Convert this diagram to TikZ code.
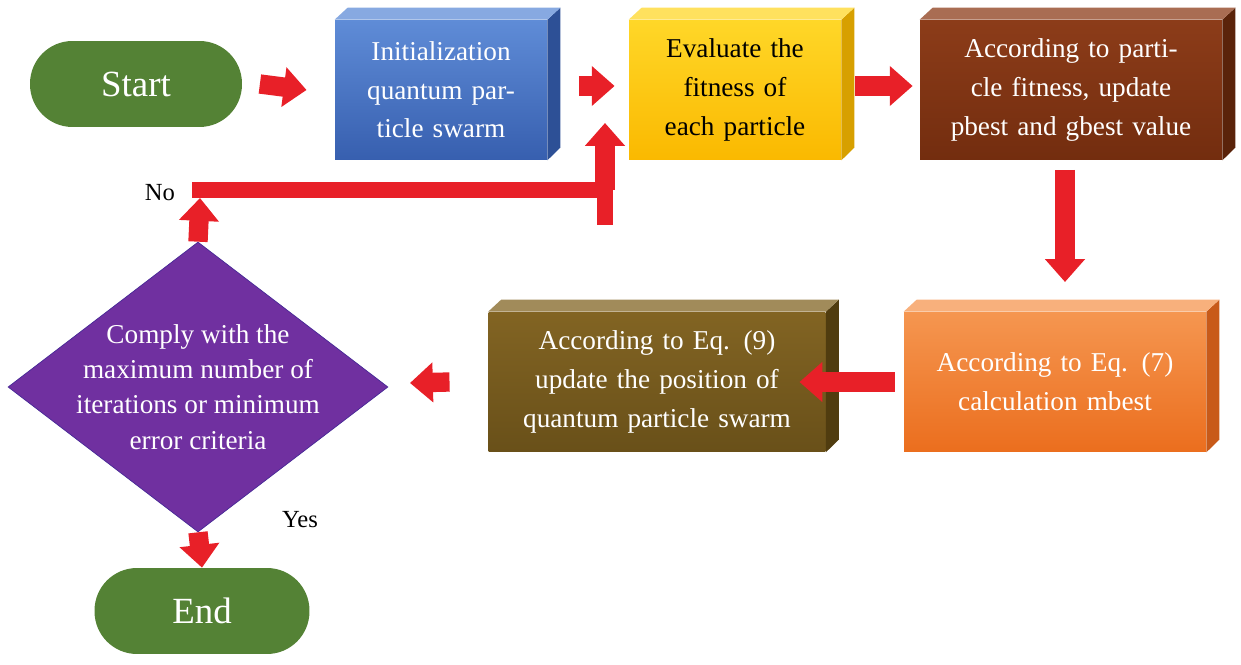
\documentclass[tikz,border=0pt]{standalone}
\usepackage{fontspec}
\setmainfont{Liberation Serif}
\usetikzlibrary{arrows.meta,shapes.geometric}
\begin{document}
\begin{tikzpicture}[x=0.02cm,y=-0.02cm,
  fat/.style={draw=red!85!black, color={rgb,255:red,232;green,32;blue,40}, line width=11pt,
    -{Triangle[width=22pt,length=13pt]}},
  fatline/.style={draw={rgb,255:red,232;green,32;blue,40}, line width=9pt},
  bx/.style={minimum width=4.16cm, minimum height=2.8cm, inner sep=2pt, align=center,
    text width=4.1cm, font=\fontsize{15.5}{22}\selectfont},
  pill/.style={rounded corners=0.85cm, minimum height=1.72cm, text=white,
    font=\fontsize{21}{25}\selectfont, fill={rgb,255:red,84;green,130;blue,53}}]
\useasboundingbox (0,0) rectangle (1241,665);
\newcommand{\cube}[4]{% name, top color, bottom color, side color
  \fill[#4] (#1.north east) -- ++(13,-12) -- ++(0,140) -- (#1.south east) -- cycle;
  \fill[#2!80!white] (#1.north west) -- ++(13,-12) -- ++(\pgfkeysvalueof{/tmp/w},0) -- (#1.north east) -- cycle;}
\definecolor{bT}{RGB}{95,140,215}\definecolor{bB}{RGB}{55,95,175}\definecolor{bS}{RGB}{45,80,150}
\definecolor{yT}{RGB}{255,215,40}\definecolor{yB}{RGB}{250,185,0}\definecolor{yS}{RGB}{215,160,0}
\definecolor{rT}{RGB}{140,60,25}\definecolor{rB}{RGB}{115,45,15}\definecolor{rS}{RGB}{90,35,10}
\definecolor{oT}{RGB}{245,150,80}\definecolor{oB}{RGB}{235,110,30}\definecolor{oS}{RGB}{200,90,25}
\definecolor{gT}{RGB}{130,100,35}\definecolor{gB}{RGB}{105,80,25}\definecolor{gS}{RGB}{80,60,15}
\definecolor{pu}{RGB}{112,48,160}

\node[pill, minimum width=4.24cm] (start) at (136,84) {Start};
\node[bx, top color=bT, bottom color=bB, text=white] (init) at (441,90) {Initialization quantum particle swarm};
\node[bx, top color=yT, bottom color=yB, minimum width=4.2cm] (eval) at (735,90) {Evaluate the fitness of each particle};
\node[bx, top color=rT, bottom color=rB, text=white, minimum width=5.96cm, text width=5.9cm] (upd) at (1071,90) {According to particle fitness, update pbest and gbest value};
\node[bx, top color=oT, bottom color=oB, text=white, minimum width=6cm, text width=5.9cm] (mb) at (1055,382) {According to Eq. (7)\\ calculation mbest};
\node[bx, top color=gT, bottom color=gB, text=white, minimum width=6.7cm, text width=6.6cm] (eq9) at (657,382) {According to Eq. (9)\\ update the position of quantum particle swarm};
\node[diamond, fill=pu, draw={rgb,255:red,70;green,40;blue,150}, minimum width=7.6cm, minimum height=5.8cm, aspect=1.31, inner sep=0pt] (dia) at (198,387) {};
\node[text=white, align=center, font=\fontsize{15.5}{20}\selectfont] (diat) at (dia) {Comply with the\\ maximum number of\\ iterations or minimum\\ error criteria};
\node[pill, minimum width=4.3cm] (end) at (202,611) {End};

\foreach \n/\c in {init/b,eval/y,upd/r,mb/o,eq9/g}{
  \fill[\c S] (\n.north east) -- ++(13,-12) -- ++(0,140) -- (\n.south east) -- cycle;
  \fill[\c T!75!white] (\n.north west) -- ++(13,-12) -- ([shift={(13,-12)}]\n.north east) -- (\n.north east) -- cycle;
}

\node[font=\fontsize{14}{16}\selectfont] (no) at (160,193) {No};
\node[font=\fontsize{14}{16}\selectfont] (yes) at (300,520) {Yes};
\coordinate (c1) at (200,198);
\coordinate (c2) at (200,190);
\coordinate (c3) at (605,190);
\coordinate (c4) at (605,123);

\draw[fat] ([xshift=10]start.east) -- ([xshift=-16]init.west);
\draw[fat] ([xshift=18]init.east |- 0,86) -- ([xshift=-8]eval.west |- 0,86);
\draw[fat] ([xshift=8]eval.east |- 0,86) -- ([xshift=-4]upd.west |- 0,86);
\draw[fat] (1065,170) -- (1065,282);
\draw[fat] ([xshift=-5]mb.west) -- ([xshift=-15]eq9.east);
\draw[fat] ([xshift=-22]eq9.west) -- (410,383);
\draw[fat] (dia.north) -- (c1);
\draw[fatline] ([xshift=-4.5pt]c2) -- (c3) -- ([yshift=-20]c3);
\draw[fat] (c3) -- (c4);
\draw[fat] (dia.south) -- (end.north);
\end{tikzpicture}
\end{document}
